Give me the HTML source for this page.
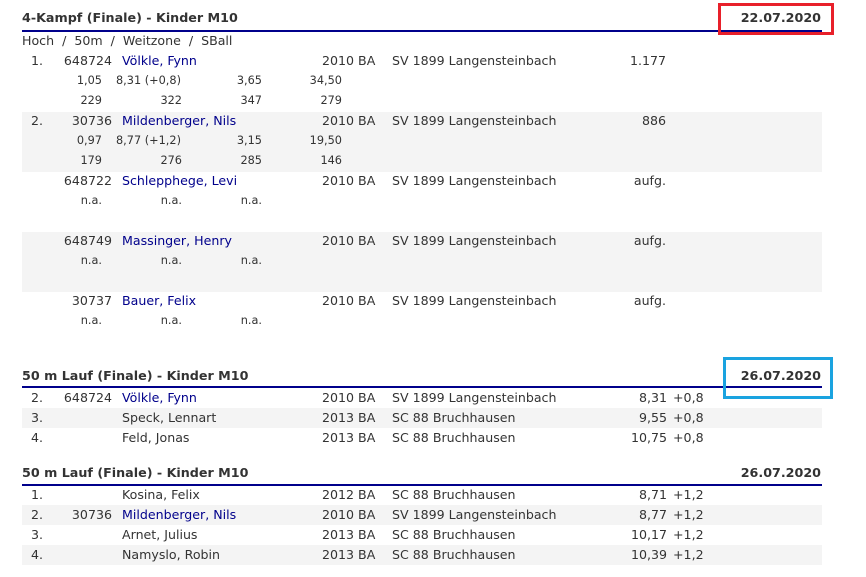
<!DOCTYPE html>
<html><head><meta charset="utf-8"><style>
body{margin:0;width:866px;height:577px;background:#fff;position:relative;overflow:hidden;font-family:"DejaVu Sans","Liberation Sans",sans-serif;font-size:12.6px;color:#333}
div{position:absolute;white-space:nowrap;line-height:20px;height:20px}
.r{text-align:right}
.s{font-size:11.3px}
.b{color:#00008b}
.h{font-weight:bold;font-size:12.7px}
.ln{height:2px;background:#00008b;left:22px;width:800px}
.g{background:#f4f4f4;left:22px;width:800px}
</style></head><body>
<div class="h" style="left:22px;top:8px">4-Kampf (Finale) - Kinder M10</div>
<div class="h r" style="left:700px;width:121px;top:8px">22.07.2020</div>
<div class="ln" style="top:30px"></div>
<div style="left:718px;top:3px;width:110px;height:26px;border:3px solid #e8202a"></div>
<div style="left:22px;top:31px">Hoch&nbsp; /&nbsp; 50m&nbsp; /&nbsp; Weitzone&nbsp; /&nbsp; SBall</div>

<div class="g" style="top:112px;height:60px"></div>
<div class="g" style="top:232px;height:60px"></div>

<div style="left:31px;top:51px">1.</div>
<div class="r" style="left:40px;width:72px;top:51px">648724</div>
<div class="b" style="left:122px;top:51px">Völkle, Fynn</div>
<div style="left:322px;top:51px">2010 BA</div>
<div style="left:392px;top:51px">SV 1899 Langensteinbach</div>
<div class="r" style="left:600px;width:66px;top:51px">1.177</div>
<div class="s r" style="left:60px;width:42px;top:71px">1,05</div>
<div class="s" style="left:116px;top:71px">8,31 (+0,8)</div>
<div class="s r" style="left:200px;width:62px;top:71px">3,65</div>
<div class="s r" style="left:280px;width:62px;top:71px">34,50</div>
<div class="s r" style="left:60px;width:42px;top:91px">229</div>
<div class="s r" style="left:120px;width:62px;top:91px">322</div>
<div class="s r" style="left:200px;width:62px;top:91px">347</div>
<div class="s r" style="left:280px;width:62px;top:91px">279</div>

<div style="left:31px;top:111px">2.</div>
<div class="r" style="left:40px;width:72px;top:111px">30736</div>
<div class="b" style="left:122px;top:111px">Mildenberger, Nils</div>
<div style="left:322px;top:111px">2010 BA</div>
<div style="left:392px;top:111px">SV 1899 Langensteinbach</div>
<div class="r" style="left:600px;width:66px;top:111px">886</div>
<div class="s r" style="left:60px;width:42px;top:131px">0,97</div>
<div class="s" style="left:116px;top:131px">8,77 (+1,2)</div>
<div class="s r" style="left:200px;width:62px;top:131px">3,15</div>
<div class="s r" style="left:280px;width:62px;top:131px">19,50</div>
<div class="s r" style="left:60px;width:42px;top:151px">179</div>
<div class="s r" style="left:120px;width:62px;top:151px">276</div>
<div class="s r" style="left:200px;width:62px;top:151px">285</div>
<div class="s r" style="left:280px;width:62px;top:151px">146</div>

<div class="r" style="left:40px;width:72px;top:171px">648722</div>
<div class="b" style="left:122px;top:171px">Schlepphege, Levi</div>
<div style="left:322px;top:171px">2010 BA</div>
<div style="left:392px;top:171px">SV 1899 Langensteinbach</div>
<div class="r" style="left:600px;width:66px;top:171px">aufg.</div>
<div class="s r" style="left:60px;width:42px;top:191px">n.a.</div>
<div class="s r" style="left:140px;width:42px;top:191px">n.a.</div>
<div class="s r" style="left:220px;width:42px;top:191px">n.a.</div>

<div class="r" style="left:40px;width:72px;top:231px">648749</div>
<div class="b" style="left:122px;top:231px">Massinger, Henry</div>
<div style="left:322px;top:231px">2010 BA</div>
<div style="left:392px;top:231px">SV 1899 Langensteinbach</div>
<div class="r" style="left:600px;width:66px;top:231px">aufg.</div>
<div class="s r" style="left:60px;width:42px;top:251px">n.a.</div>
<div class="s r" style="left:140px;width:42px;top:251px">n.a.</div>
<div class="s r" style="left:220px;width:42px;top:251px">n.a.</div>

<div class="r" style="left:40px;width:72px;top:291px">30737</div>
<div class="b" style="left:122px;top:291px">Bauer, Felix</div>
<div style="left:322px;top:291px">2010 BA</div>
<div style="left:392px;top:291px">SV 1899 Langensteinbach</div>
<div class="r" style="left:600px;width:66px;top:291px">aufg.</div>
<div class="s r" style="left:60px;width:42px;top:311px">n.a.</div>
<div class="s r" style="left:140px;width:42px;top:311px">n.a.</div>
<div class="s r" style="left:220px;width:42px;top:311px">n.a.</div>

<div class="h" style="left:22px;top:366px">50 m Lauf (Finale) - Kinder M10</div>
<div class="h r" style="left:700px;width:121px;top:366px">26.07.2020</div>
<div class="ln" style="top:386px"></div>
<div style="left:723px;top:357px;width:104px;height:36px;border:3px solid #1aa3e0"></div>
<div class="g" style="top:408px;height:20px"></div>
<div style="left:31px;top:388px">2.</div>
<div class="r" style="left:40px;width:72px;top:388px">648724</div>
<div class="b" style="left:122px;top:388px">Völkle, Fynn</div>
<div style="left:322px;top:388px">2010 BA</div>
<div style="left:392px;top:388px">SV 1899 Langensteinbach</div>
<div class="r" style="left:600px;width:67px;top:388px">8,31</div>
<div style="left:673px;top:388px">+0,8</div>
<div style="left:31px;top:408px">3.</div>
<div style="left:122px;top:408px">Speck, Lennart</div>
<div style="left:322px;top:408px">2013 BA</div>
<div style="left:392px;top:408px">SC 88 Bruchhausen</div>
<div class="r" style="left:600px;width:67px;top:408px">9,55</div>
<div style="left:673px;top:408px">+0,8</div>
<div style="left:31px;top:428px">4.</div>
<div style="left:122px;top:428px">Feld, Jonas</div>
<div style="left:322px;top:428px">2013 BA</div>
<div style="left:392px;top:428px">SC 88 Bruchhausen</div>
<div class="r" style="left:600px;width:67px;top:428px">10,75</div>
<div style="left:673px;top:428px">+0,8</div>

<div class="h" style="left:22px;top:463px">50 m Lauf (Finale) - Kinder M10</div>
<div class="h r" style="left:700px;width:121px;top:463px">26.07.2020</div>
<div class="ln" style="top:484px"></div>
<div class="g" style="top:505px;height:20px"></div>
<div class="g" style="top:545px;height:20px"></div>
<div style="left:31px;top:485px">1.</div>
<div style="left:122px;top:485px">Kosina, Felix</div>
<div style="left:322px;top:485px">2012 BA</div>
<div style="left:392px;top:485px">SC 88 Bruchhausen</div>
<div class="r" style="left:600px;width:67px;top:485px">8,71</div>
<div style="left:673px;top:485px">+1,2</div>
<div style="left:31px;top:505px">2.</div>
<div class="r" style="left:40px;width:72px;top:505px">30736</div>
<div class="b" style="left:122px;top:505px">Mildenberger, Nils</div>
<div style="left:322px;top:505px">2010 BA</div>
<div style="left:392px;top:505px">SV 1899 Langensteinbach</div>
<div class="r" style="left:600px;width:67px;top:505px">8,77</div>
<div style="left:673px;top:505px">+1,2</div>
<div style="left:31px;top:525px">3.</div>
<div style="left:122px;top:525px">Arnet, Julius</div>
<div style="left:322px;top:525px">2013 BA</div>
<div style="left:392px;top:525px">SC 88 Bruchhausen</div>
<div class="r" style="left:600px;width:67px;top:525px">10,17</div>
<div style="left:673px;top:525px">+1,2</div>
<div style="left:31px;top:545px">4.</div>
<div style="left:122px;top:545px">Namyslo, Robin</div>
<div style="left:322px;top:545px">2013 BA</div>
<div style="left:392px;top:545px">SC 88 Bruchhausen</div>
<div class="r" style="left:600px;width:67px;top:545px">10,39</div>
<div style="left:673px;top:545px">+1,2</div>
</body></html>
